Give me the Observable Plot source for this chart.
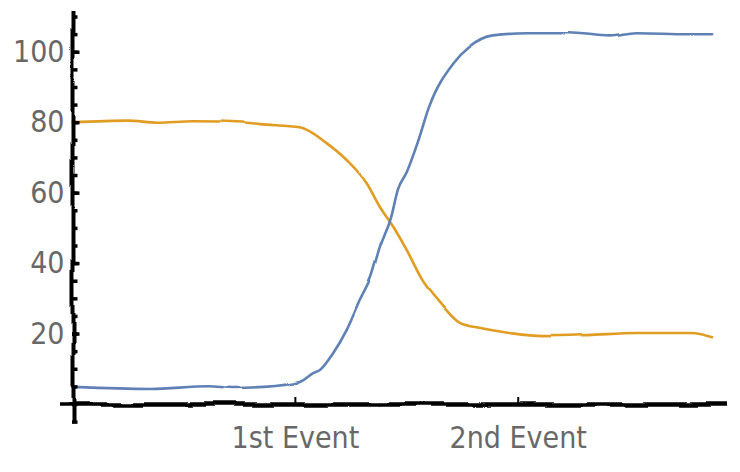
<!DOCTYPE html>
<html>
<head>
<meta charset="utf-8">
<script src="https://cdn.jsdelivr.net/npm/d3@7"></script>
<script src="https://cdn.jsdelivr.net/npm/@observablehq/plot@0.6"></script>
<style>
  html, body { margin: 0; padding: 0; background: #fff; }
  #chart { width: 740px; height: 472px; }
</style>
</head>
<body>
<div id="chart"></div>
<script>
// x: 0 = start, 1 = "1st Event", 2 = "2nd Event"
const blueX = [0, 0.35, 0.61, 0.72, 0.86, 1.02, 1.08, 1.11, 1.17, 1.23, 1.29, 1.34, 1.38, 1.43, 1.46, 1.50, 1.55, 1.60, 1.71, 1.78, 1.89, 2.04, 2.23, 2.41, 2.53, 2.76, 2.87];
const blueY = [5.0, 4.4, 5.2, 4.7, 5.0, 6.4, 8.9, 9.8, 14.6, 21.1, 29.6, 36.2, 44.7, 53.2, 61.0, 66.0, 74.6, 84.5, 96.9, 101.4, 104.8, 105.4, 105.4, 104.5, 105.4, 105.1, 105.1];

const orangeX = [0, 0.25, 0.38, 0.54, 0.78, 0.84, 1.02, 1.14, 1.23, 1.32, 1.38, 1.44, 1.50, 1.57, 1.65, 1.74, 1.83, 1.96, 2.11, 2.31, 2.53, 2.77, 2.87];
const orangeY = [80.1, 80.6, 80.0, 80.4, 80.0, 79.6, 78.7, 74.2, 69.4, 62.8, 56.0, 50.4, 43.8, 35.3, 28.8, 23.1, 21.7, 20.3, 19.4, 19.7, 20.3, 20.3, 19.1];

const yMajorTicks = [20, 40, 60, 80, 100];
const yMinorTicks = d3.range(-5, 111, 5);
const xTicks = [1, 2];
const xTickLabels = ["1st Event", "2nd Event"];

const blue = blueX.map((x, i) => ({x, y: blueY[i]}));
const orange = orangeX.map((x, i) => ({x, y: orangeY[i]}));

const labelFont = "'DejaVu Sans Condensed', 'DejaVu Sans', sans-serif";

const chart = Plot.plot({
  width: 740,
  height: 472,
  marginLeft: 72,
  marginRight: 15,
  marginTop: 13,
  marginBottom: 68,
  style: {fontFamily: labelFont, background: "white", overflow: "visible"},
  x: {domain: [0, 2.93]},
  y: {domain: [0, 111]},
  marks: [
    Plot.line(orange, {x: "x", y: "y", stroke: "#e19c24", strokeWidth: 2.6, curve: "monotone-x"}),
    Plot.line(blue, {x: "x", y: "y", stroke: "#5e81b5", strokeWidth: 2.6, curve: "monotone-x"}),
    Plot.ruleY([0], {stroke: "black", strokeWidth: 4.5, insetLeft: -13}),
    Plot.ruleX([0], {stroke: "black", strokeWidth: 4, insetBottom: -21}),
    Plot.axisY(yMinorTicks, {tickSize: -5.5, strokeWidth: 3.5, stroke: "black", tickFormat: () => "", label: null}),
    Plot.axisY(yMajorTicks, {tickSize: -7.5, strokeWidth: 3.5, stroke: "black", tickFormat: () => "", label: null}),
    Plot.axisY(yMajorTicks, {tickSize: 0, tickPadding: 8, fontSize: 30, fill: "#686868", label: null}),
    Plot.axisX(xTicks, {tickSize: -7, strokeWidth: 2, stroke: "black", tickFormat: () => "", label: null}),
    Plot.axisX(xTicks, {tickSize: 0, tickPadding: 22, fontSize: 30, fill: "#686868", label: null,
      tickFormat: (d) => xTickLabels[xTicks.indexOf(d)]})
  ]
});

// hand-drawn wobble filters
const svg = d3.select(chart);
const defs = svg.insert("defs", ":first-child");
function addFilter(id, freq, scale, seed) {
  const f = defs.append("filter").attr("id", id)
    .attr("filterUnits", "userSpaceOnUse")
    .attr("x", 0).attr("y", 0).attr("width", 740).attr("height", 472);
  f.append("feTurbulence").attr("type", "fractalNoise").attr("baseFrequency", freq)
    .attr("numOctaves", 1).attr("seed", seed).attr("result", "n");
  f.append("feDisplacementMap").attr("in", "SourceGraphic").attr("in2", "n")
    .attr("scale", scale).attr("xChannelSelector", "R").attr("yChannelSelector", "G");
}
addFilter("wobbleAxis", 0.02, 9, 4);
addFilter("wobbleLine", 0.015, 3, 7);
svg.selectAll("g[aria-label='rule']").attr("filter", "url(#wobbleAxis)");
svg.selectAll("g[aria-label='line']").attr("filter", "url(#wobbleLine)");

document.getElementById("chart").appendChild(chart);
</script>
</body>
</html>
